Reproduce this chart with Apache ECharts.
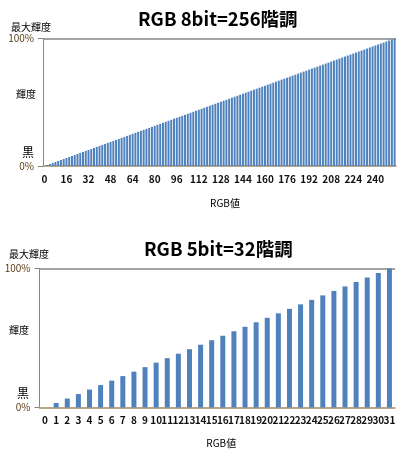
<!DOCTYPE html>
<html>
<head>
<meta charset="utf-8">
<script src="https://cdn.jsdelivr.net/npm/echarts@6/dist/echarts.min.js"></script>
<style>
html,body{margin:0;padding:0;background:#fff;}
#c{width:409px;height:459px;}
</style>
</head>
<body>
<div id="c"></div>
<script>
// ---- data ----
const title8 = 'RGB 8bit=256階調';
const title5 = 'RGB 5bit=32階調';
const cats8 = [0,2,4,6,8,10,12,14,16,18,20,22,24,26,28,30,32,34,36,38,40,42,44,46,48,50,52,54,56,58,60,62,
64,66,68,70,72,74,76,78,80,82,84,86,88,90,92,94,96,98,100,102,104,106,108,110,112,114,116,118,120,122,124,126,
128,130,132,134,136,138,140,142,144,146,148,150,152,154,156,158,160,162,164,166,168,170,172,174,176,178,180,182,184,186,188,190,
192,194,196,198,200,202,204,206,208,210,212,214,216,218,220,222,224,226,228,230,232,234,236,238,240,242,244,246,248,250,252,254];
const vals8 = [0,2,4,6,8,10,12,14,16,18,20,22,24,26,28,30,32,34,36,38,40,42,44,46,48,50,52,54,56,58,60,62,
64,66,68,70,72,74,76,78,80,82,84,86,88,90,92,94,96,98,100,102,104,106,108,110,112,114,116,118,120,122,124,126,
128,130,132,134,136,138,140,142,144,146,148,150,152,154,156,158,160,162,164,166,168,170,172,174,176,178,180,182,184,186,188,190,
192,194,196,198,200,202,204,206,208,210,212,214,216,218,220,222,224,226,228,230,232,234,236,238,240,242,244,246,248,250,252,254];
const cats5 = [0,1,2,3,4,5,6,7,8,9,10,11,12,13,14,15,16,17,18,19,20,21,22,23,24,25,26,27,28,29,30,31];
const vals5 = [0,1,2,3,4,5,6,7,8,9,10,11,12,13,14,15,16,17,18,19,20,21,22,23,24,25,26,27,28,29,30,31];
const yTickLabels = ['0%','100%'];
const xName = 'RGB値';
const sideLabels = ['最大輝度','輝度','黒'];

// ---- chart ----
const FONT = '"Noto Sans CJK JP", "Noto Sans", sans-serif';
const BAR = '#4f81bd';
const GRAY = '#868686';
const TAN = '#bfa580';
const max8 = Math.max.apply(null, vals8);
const max5 = Math.max.apply(null, vals5);

function yAxis(gi, max) {
  return {
    gridIndex: gi, type: 'value', min: 0, max: max, interval: max,
    axisLine: {show: true, lineStyle: {color: GRAY, width: 1}},
    axisTick: {show: true, length: 5, lineStyle: {color: GRAY}},
    splitLine: {show: true, lineStyle: {color: GRAY, width: 1.5}},
    axisLabel: {
      margin: 9, fontSize: 10, fontFamily: FONT, color: '#5a3c14',
      formatter: v => v === 0 ? yTickLabels[0] : yTickLabels[1]
    }
  };
}
function xAxis(gi, cats, interval, pad, gap) {
  return {
    gridIndex: gi, type: 'category', data: cats,
    name: xName, nameLocation: 'middle', nameGap: gap,
    nameTextStyle: {fontSize: 10, fontFamily: FONT, color: '#000', padding: [0, 0, 0, pad]},
    axisLine: {show: true, lineStyle: {color: TAN, width: 1.5}},
    axisTick: {show: false},
    axisLabel: {interval: interval, margin: 8, fontSize: 10, fontWeight: 'bold', fontFamily: FONT, color: '#111'}
  };
}
function sideText(x, y, text, size) {
  return {type: 'text', left: x, top: y, style: {text: text, font: size + 'px ' + FONT, fill: '#000'}};
}

const chart = echarts.init(document.getElementById('c'));
chart.setOption({
  animation: false,
  title: [
    {text: title8, left: 138, top: 10, padding: 0,
     textStyle: {fontFamily: FONT, fontSize: 18.5, fontWeight: 'bold', color: '#000'}},
    {text: title5, left: 144, top: 240, padding: 0,
     textStyle: {fontFamily: FONT, fontSize: 18.5, fontWeight: 'bold', color: '#000'}}
  ],
  grid: [
    {left: 43, top: 38.5, right: 13, height: 127.5},
    {left: 39.5, top: 268.5, right: 14, height: 139}
  ],
  xAxis: [xAxis(0, cats8, 7, 11, 32), xAxis(1, cats5, 0, 8, 31)],
  yAxis: [yAxis(0, max8), yAxis(1, max5)],
  series: [
    {type: 'bar', xAxisIndex: 0, yAxisIndex: 0, data: vals8, barWidth: '72%', itemStyle: {color: BAR}},
    {type: 'bar', xAxisIndex: 1, yAxisIndex: 1, data: vals5, barWidth: '45%', itemStyle: {color: BAR}}
  ],
  graphic: [
    sideText(11, 22, sideLabels[0], 10),
    sideText(16, 89, sideLabels[1], 10),
    sideText(22, 146, sideLabels[2], 12),
    sideText(9, 249, sideLabels[0], 10),
    sideText(9, 325, sideLabels[1], 10),
    sideText(17, 387, sideLabels[2], 12)
  ]
});
</script>
</body>
</html>
